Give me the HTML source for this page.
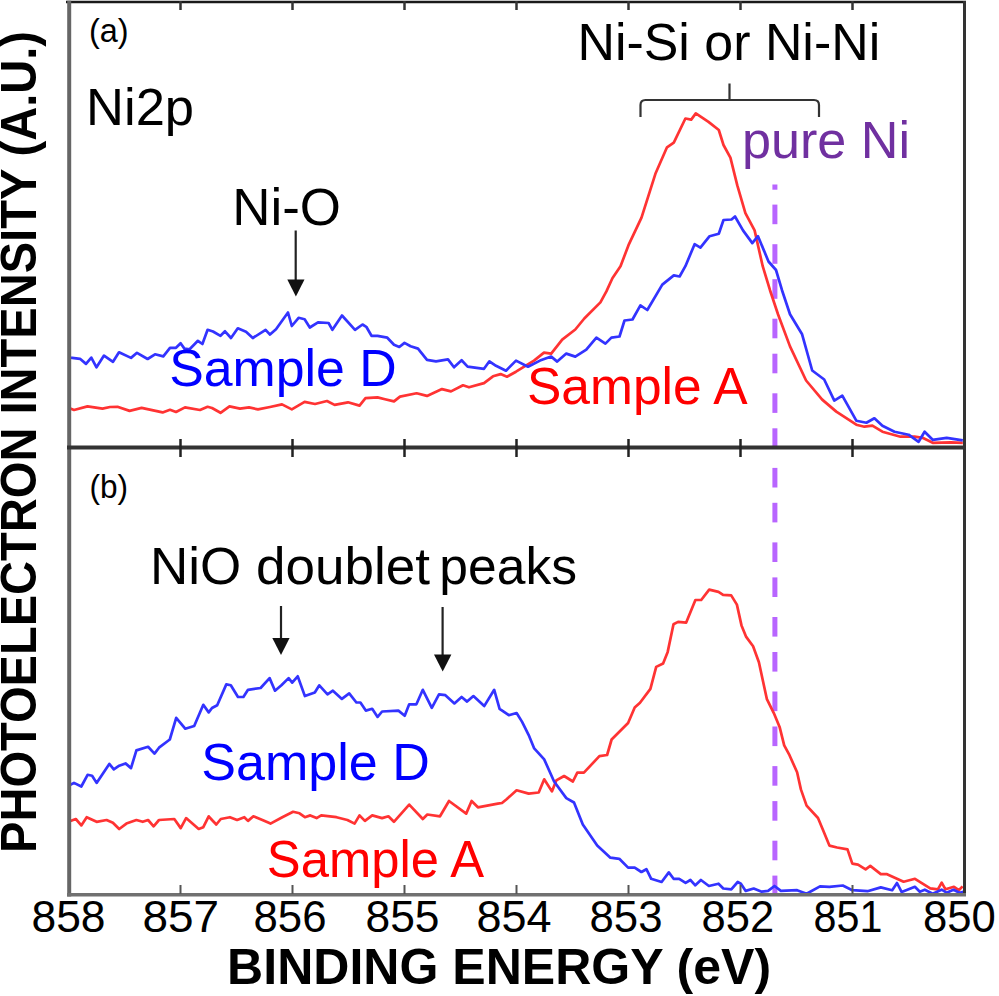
<!DOCTYPE html>
<html><head><meta charset="utf-8"><style>
html,body{margin:0;padding:0;background:#fff;}
body{width:999px;height:996px;overflow:hidden;}
svg{display:block;}
#wrap{width:999px;height:996px;}
text{font-family:"Liberation Sans",sans-serif;fill:#000;}
</style></head><body>
<div id="wrap"><svg width="999" height="996" viewBox="0 0 999 996">
<rect width="999" height="996" fill="#fff"/>
<!-- dashed pure Ni line -->
<rect x="772.4" y="184.5" width="5" height="5.2" fill="#b865ff"/><rect x="772.4" y="204.6" width="5" height="19.6" fill="#b865ff"/><rect x="772.4" y="244.2" width="5" height="19.6" fill="#b865ff"/><rect x="772.4" y="279.2" width="5" height="19.6" fill="#b865ff"/><rect x="772.4" y="318.7" width="5" height="19.6" fill="#b865ff"/><rect x="772.4" y="353.7" width="5" height="19.6" fill="#b865ff"/><rect x="772.4" y="393.3" width="5" height="19.6" fill="#b865ff"/><rect x="772.4" y="428.3" width="5" height="19.6" fill="#b865ff"/><rect x="772.4" y="467.9" width="5" height="19.6" fill="#b865ff"/><rect x="772.4" y="502.8" width="5" height="19.6" fill="#b865ff"/><rect x="772.4" y="542.4" width="5" height="19.6" fill="#b865ff"/><rect x="772.4" y="577.4" width="5" height="19.6" fill="#b865ff"/><rect x="772.4" y="617.0" width="5" height="19.6" fill="#b865ff"/><rect x="772.4" y="652.0" width="5" height="19.6" fill="#b865ff"/><rect x="772.4" y="691.5" width="5" height="19.6" fill="#b865ff"/><rect x="772.4" y="726.5" width="5" height="19.6" fill="#b865ff"/><rect x="772.4" y="766.1" width="5" height="19.6" fill="#b865ff"/><rect x="772.4" y="801.1" width="5" height="19.6" fill="#b865ff"/><rect x="772.4" y="840.7" width="5" height="19.6" fill="#b865ff"/><rect x="772.4" y="875.6" width="5" height="17.9" fill="#b865ff"/>
<!-- curves -->
<polyline points="68.5,408.4 70.3,408.6 74.0,410.0 87.5,406.4 102.5,408.6 110.0,407.0 117.5,406.8 129.6,410.9 141.6,407.9 162.6,412.4 170.0,409.8 176.0,412.0 185.0,407.4 200.0,410.0 207.6,406.8 212.0,408.0 220.5,412.8 229.5,406.4 240.0,408.6 249.0,407.4 258.0,409.4 270.0,407.0 282.0,404.4 291.8,409.4 304.6,401.9 315.0,404.0 327.0,401.0 334.6,404.9 348.0,402.3 359.5,405.6 365.5,398.1 377.5,397.4 385.0,399.3 394.0,401.4 400.0,396.6 416.6,393.3 427.0,395.9 442.0,389.1 451.0,391.4 463.0,385.3 469.0,387.3 484.0,383.1 493.0,376.3 500.6,374.1 507.0,376.7 516.0,371.7 534.0,360.6 544.0,352.6 551.2,353.6 562.2,339.6 575.3,329.5 584.3,318.5 600.4,302.4 606.4,291.4 612.4,278.3 620.5,266.3 628.5,245.2 641.5,217.7 655.4,173.8 667.0,147.3 673.8,142.7 685.4,118.5 691.2,119.6 695.8,113.4 708.5,121.9 718.8,130.0 723.5,145.0 730.4,157.7 737.3,185.4 745.4,213.1 754.6,230.4 762.7,266.2 770.0,290.2 778.0,314.3 790.0,346.4 806.1,380.5 822.2,399.6 836.3,411.6 856.3,424.7 864.4,426.7 872.4,425.7 882.4,431.7 900.5,436.7 914.6,436.7 922.6,437.8 932.7,442.8 950.7,442.4 962.8,442.8" fill="none" stroke="#ff3333" stroke-width="2.7" stroke-linejoin="round"/>
<polyline points="68.5,357.2 70.3,357.6 80.0,358.8 86.0,363.9 91.3,357.6 96.5,367.3 104.0,355.6 113.0,361.8 119.0,352.3 131.0,357.9 137.0,352.8 147.6,359.0 155.0,354.3 163.3,356.4 170.0,347.8 176.0,347.8 180.6,343.3 184.4,348.6 189.6,349.3 197.9,340.8 202.4,344.0 207.6,329.8 213.0,331.5 220.5,335.8 225.0,331.3 231.0,338.0 237.8,328.3 246.0,331.7 252.8,338.0 265.6,329.8 270.0,334.6 276.0,329.3 288.0,312.5 291.8,326.0 298.6,317.8 304.6,319.3 309.8,327.5 318.0,322.3 328.6,323.0 332.4,329.8 342.0,315.5 355.0,329.8 362.5,324.5 366.3,326.8 371.5,335.8 377.5,335.8 387.3,337.7 394.0,344.8 399.3,347.0 404.5,342.9 410.6,346.3 418.0,348.6 427.0,359.8 436.0,361.3 448.0,359.4 454.0,367.3 461.6,360.3 467.6,366.6 484.0,368.8 489.4,361.3 496.0,365.8 500.0,367.7 506.0,370.7 516.0,360.6 528.0,366.7 540.0,360.6 551.2,356.6 557.2,361.6 566.3,353.6 575.3,356.6 586.3,349.6 596.4,337.6 605.4,343.6 611.4,337.6 619.5,336.5 624.5,320.5 632.5,319.5 640.4,305.4 647.3,310.0 662.3,284.6 673.8,275.4 679.6,276.5 685.4,266.2 694.6,244.2 700.4,247.7 709.6,236.2 718.8,233.8 723.5,220.0 731.5,219.5 735.0,216.5 743.0,230.4 752.3,243.1 758.0,236.2 768.5,261.5 776.0,270.0 782.0,290.2 790.0,314.3 802.1,334.3 812.2,370.5 824.2,379.5 834.3,400.6 842.3,395.6 856.3,420.7 866.4,422.7 874.4,418.3 882.4,425.7 894.5,431.7 908.6,434.7 918.6,441.8 924.6,431.7 932.7,439.8 946.7,437.8 962.8,440.4" fill="none" stroke="#3333ff" stroke-width="2.7" stroke-linejoin="round"/>
<polyline points="68.5,821.0 70.4,820.9 75.8,819.0 81.3,825.4 86.7,817.2 96.6,821.8 106.6,820.0 112.9,822.7 119.2,829.0 126.4,823.6 136.4,820.0 142.7,821.8 148.1,820.0 153.6,826.3 159.0,820.0 174.3,819.0 180.7,828.1 186.1,818.1 198.7,829.0 203.3,827.2 208.7,816.3 212.0,820.0 216.3,824.5 220.8,819.0 229.9,817.2 237.1,820.0 244.3,817.2 248.0,820.9 253.4,816.3 262.4,820.0 270.5,823.6 282.3,817.2 293.1,811.8 299.5,813.3 304.9,817.2 310.3,815.4 316.6,818.1 321.2,815.4 336.5,817.2 347.4,820.0 354.6,823.6 359.5,815.4 364.9,820.9 372.2,815.4 382.1,818.1 388.4,816.3 393.9,821.8 409.2,804.6 422.8,819.0 427.3,814.5 440.0,816.3 449.0,801.0 466.2,813.6 471.6,801.0 477.9,807.3 497.8,803.7 502.0,803.0 506.6,799.2 516.6,790.3 528.7,793.6 538.7,792.5 544.2,779.3 551.9,791.4 556.3,780.4 564.1,776.0 572.9,781.5 577.3,772.7 583.9,772.7 599.4,756.1 607.1,755.0 611.6,739.5 628.1,723.0 634.7,707.5 640.0,702.7 650.4,688.9 656.2,666.9 663.1,663.5 667.7,651.9 673.5,624.2 678.1,621.9 686.2,622.6 695.4,600.0 701.2,600.0 709.2,589.6 718.5,591.9 723.1,594.9 731.2,595.4 736.9,604.6 741.5,625.4 746.2,636.9 753.1,646.2 758.9,662.3 766.9,699.2 773.8,713.1 779.6,726.9 784.2,745.4 789.5,755.2 797.1,772.3 800.9,789.4 806.6,805.6 818.0,818.0 822.8,829.4 829.4,845.6 837.1,847.5 847.5,849.4 852.3,863.6 858.0,864.6 865.6,869.3 870.3,865.9 880.8,874.1 886.5,874.1 903.6,881.7 915.0,878.8 930.2,888.3 937.9,889.3 941.7,882.6 945.5,889.3 954.0,886.8 958.8,890.2 962.6,886.4" fill="none" stroke="#ff3333" stroke-width="2.7" stroke-linejoin="round"/>
<polyline points="68.5,785.0 70.4,784.7 74.0,782.9 81.3,786.5 87.6,774.8 92.1,775.7 96.6,782.9 109.3,763.9 113.8,769.3 119.2,765.7 125.5,763.4 131.0,768.1 136.4,750.4 148.1,746.8 154.5,753.6 159.0,747.7 169.8,739.5 176.2,717.8 185.2,728.7 194.2,726.0 203.3,704.8 208.7,712.4 212.0,708.0 217.2,705.2 226.3,684.4 230.8,685.3 238.0,697.0 243.4,697.0 248.0,689.8 260.6,688.0 269.6,678.1 275.0,690.7 281.4,685.3 288.6,678.1 292.2,682.6 297.7,676.3 304.9,696.1 314.8,692.5 319.3,685.3 327.5,694.3 332.9,690.7 341.9,698.9 349.2,693.4 356.4,702.5 360.4,702.5 365.8,710.6 372.2,708.8 377.6,716.9 382.1,711.5 398.4,710.6 404.7,715.7 409.2,704.3 416.4,704.3 422.8,689.8 431.8,707.9 439.0,694.3 445.4,695.2 454.4,703.4 461.6,697.0 467.1,701.6 473.4,696.1 484.2,706.1 494.2,689.8 499.6,708.8 508.8,715.2 516.6,713.0 522.1,721.9 528.7,735.1 534.2,748.4 544.2,759.4 554.1,781.5 566.3,798.1 574.0,802.5 582.8,824.6 597.2,845.6 610.4,857.7 619.3,858.8 628.1,867.6 634.7,867.6 641.4,872.0 646.4,869.2 651.2,878.8 661.6,882.0 668.8,872.4 673.6,878.8 679.2,878.8 685.6,882.9 690.4,880.0 695.3,885.3 700.9,880.0 708.9,886.0 718.5,883.7 723.3,888.5 731.3,889.3 737.7,882.0 740.9,883.7 745.7,890.9 753.7,888.5 761.7,891.7 768.1,890.9 774.5,886.0 780.9,890.9 797.1,890.2 806.6,893.7 820.0,886.4 829.4,886.8 842.8,885.5 852.3,890.2 867.5,891.2 880.8,887.4 892.2,890.2 897.0,883.0 901.7,892.1 914.9,886.8 919.8,891.7 924.8,889.7 932.7,893.7 941.6,889.7 946.6,892.7 953.5,889.7 959.5,892.7 963.4,891.7" fill="none" stroke="#3333ff" stroke-width="2.7" stroke-linejoin="round"/>
<!-- frame -->
<line x1="66" y1="1.9" x2="966" y2="1.9" stroke="#1a1a1a" stroke-width="2.5"/>
<line x1="69.2" y1="0.7" x2="69.2" y2="896.5" stroke="#666" stroke-width="4"/>
<line x1="964.5" y1="1" x2="964.5" y2="896" stroke="#333" stroke-width="3"/>
<line x1="67" y1="447.5" x2="966" y2="447.5" stroke="#333" stroke-width="4"/>
<line x1="67" y1="894.7" x2="966" y2="894.7" stroke="#707070" stroke-width="3.6"/>
<line x1="180.5" y1="1" x2="180.5" y2="10" stroke="#333" stroke-width="2.5"/><line x1="180.5" y1="439" x2="180.5" y2="457" stroke="#222" stroke-width="2.5"/><line x1="180.5" y1="885" x2="180.5" y2="894" stroke="#555" stroke-width="2"/><line x1="292.5" y1="1" x2="292.5" y2="10" stroke="#333" stroke-width="2.5"/><line x1="292.5" y1="439" x2="292.5" y2="457" stroke="#222" stroke-width="2.5"/><line x1="292.5" y1="885" x2="292.5" y2="894" stroke="#555" stroke-width="2"/><line x1="404.5" y1="1" x2="404.5" y2="10" stroke="#333" stroke-width="2.5"/><line x1="404.5" y1="439" x2="404.5" y2="457" stroke="#222" stroke-width="2.5"/><line x1="404.5" y1="885" x2="404.5" y2="894" stroke="#555" stroke-width="2"/><line x1="516.5" y1="1" x2="516.5" y2="10" stroke="#333" stroke-width="2.5"/><line x1="516.5" y1="439" x2="516.5" y2="457" stroke="#222" stroke-width="2.5"/><line x1="516.5" y1="885" x2="516.5" y2="894" stroke="#555" stroke-width="2"/><line x1="628.5" y1="1" x2="628.5" y2="10" stroke="#333" stroke-width="2.5"/><line x1="628.5" y1="439" x2="628.5" y2="457" stroke="#222" stroke-width="2.5"/><line x1="628.5" y1="885" x2="628.5" y2="894" stroke="#555" stroke-width="2"/><line x1="740.5" y1="1" x2="740.5" y2="10" stroke="#333" stroke-width="2.5"/><line x1="740.5" y1="439" x2="740.5" y2="457" stroke="#222" stroke-width="2.5"/><line x1="740.5" y1="885" x2="740.5" y2="894" stroke="#555" stroke-width="2"/><line x1="852.5" y1="1" x2="852.5" y2="10" stroke="#333" stroke-width="2.5"/><line x1="852.5" y1="439" x2="852.5" y2="457" stroke="#222" stroke-width="2.5"/><line x1="852.5" y1="885" x2="852.5" y2="894" stroke="#555" stroke-width="2"/>
<!-- annotations -->
<text x="88.92" y="42.00" font-size="34.00" textLength="39.71" lengthAdjust="spacingAndGlyphs">(a)</text>
<text x="89.46" y="498.00" font-size="33.50" textLength="38.60" lengthAdjust="spacingAndGlyphs">(b)</text>
<text x="86.10" y="125.40" font-size="52.50" textLength="107.99" lengthAdjust="spacingAndGlyphs">Ni2p</text>
<text x="232.28" y="225.10" font-size="52.50" textLength="108.77" lengthAdjust="spacingAndGlyphs">Ni-O</text>
<text x="577.46" y="60.40" font-size="52.50" textLength="302.75" lengthAdjust="spacingAndGlyphs">Ni-Si or Ni-Ni</text>
<text x="741.90" y="158.00" font-size="52.50" style="fill:#7030a0" textLength="168.21" lengthAdjust="spacingAndGlyphs">pure Ni</text>
<text x="169.16" y="386.30" font-size="52.50" style="fill:#0000ff" textLength="227.65" lengthAdjust="spacingAndGlyphs">Sample D</text>
<text x="526.90" y="404.00" font-size="52.50" style="fill:#ff0000" textLength="220.65" lengthAdjust="spacingAndGlyphs">Sample A</text>
<text x="150.00" y="583.70" font-size="52.50" textLength="279.89" lengthAdjust="spacingAndGlyphs">NiO doublet</text>
<text x="439.36" y="583.70" font-size="52.50" textLength="137.62" lengthAdjust="spacingAndGlyphs">peaks</text>
<text x="201.30" y="779.50" font-size="52.50" style="fill:#0000ff" textLength="228.47" lengthAdjust="spacingAndGlyphs">Sample D</text>
<text x="266.86" y="877.20" font-size="52.50" style="fill:#ff0000" textLength="217.23" lengthAdjust="spacingAndGlyphs">Sample A</text>
<text x="227.10" y="984.30" font-size="50.50" font-weight="bold" textLength="544.01" lengthAdjust="spacingAndGlyphs">BINDING ENERGY (eV)</text>
<text x="31.50" y="931.50" font-size="45.00" textLength="74.04" lengthAdjust="spacingAndGlyphs">858</text>
<text x="142.54" y="931.50" font-size="45.00" textLength="76.60" lengthAdjust="spacingAndGlyphs">857</text>
<text x="253.50" y="931.50" font-size="45.00" textLength="73.00" lengthAdjust="spacingAndGlyphs">856</text>
<text x="365.50" y="931.50" font-size="45.00" textLength="74.04" lengthAdjust="spacingAndGlyphs">855</text>
<text x="476.50" y="931.50" font-size="45.00" textLength="75.07" lengthAdjust="spacingAndGlyphs">854</text>
<text x="589.50" y="931.50" font-size="45.00" textLength="73.00" lengthAdjust="spacingAndGlyphs">853</text>
<text x="701.50" y="931.50" font-size="45.00" textLength="72.59" lengthAdjust="spacingAndGlyphs">852</text>
<text x="813.50" y="931.50" font-size="45.00" textLength="68.83" lengthAdjust="spacingAndGlyphs">851</text>
<text x="923.00" y="931.50" font-size="45.00" textLength="72.80" lengthAdjust="spacingAndGlyphs">850</text>
<!-- arrows -->
<line x1="295.7" y1="230.5" x2="295.7" y2="282" stroke="#222" stroke-width="2.2"/>
<polygon points="287.3,279.5 304.5,279.5 295.9,296.5" fill="#111"/>
<line x1="281" y1="606" x2="281" y2="640" stroke="#222" stroke-width="2.2"/>
<polygon points="272.3,638 289.6,638 281,655" fill="#111"/>
<line x1="442.6" y1="607" x2="442.6" y2="657" stroke="#222" stroke-width="2.2"/>
<polygon points="434,654.6 451.4,654.6 442.7,671.4" fill="#111"/>
<!-- bracket -->
<path d="M640.5,117 L640.5,105 Q640.5,100 645.5,100 L814,100 Q819,100 819,105 L819,117 M729.5,100 L729.5,83.5" fill="none" stroke="#333" stroke-width="2.2"/>
<text transform="translate(36,853) rotate(-90)" font-size="50" font-weight="bold" textLength="822" lengthAdjust="spacingAndGlyphs">PHOTOELECTRON INTENSITY (A.U.)</text>
</svg></div>
</body></html>
